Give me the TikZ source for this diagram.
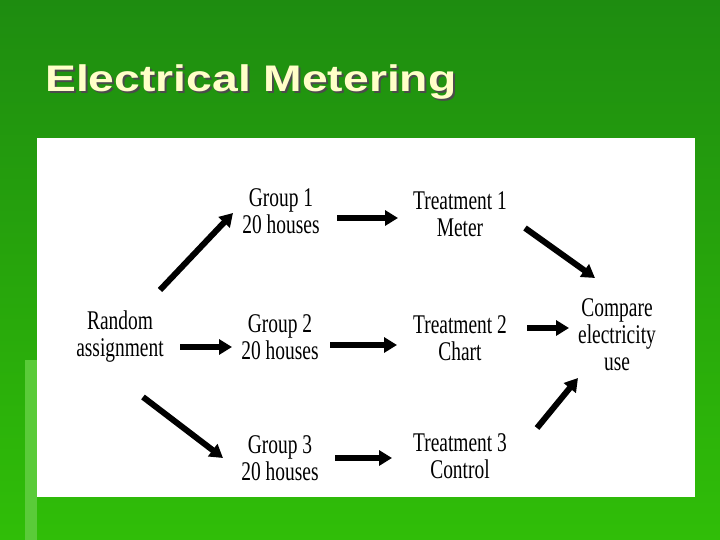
\documentclass[tikz,border=0pt]{standalone}
\usepackage{fontspec}
\setmainfont{Liberation Serif}
\newfontfamily\titlefont{Liberation Sans}
\usetikzlibrary{arrows.meta,calc}
\definecolor{bgtop}{RGB}{30,140,16}
\definecolor{bgbot}{RGB}{48,190,8}
\definecolor{titlecol}{RGB}{255,255,200}
\tikzset{
  lbl/.style={align=center,font=\fontsize{27}{27}\selectfont,xscale=0.72,inner sep=0pt},
  arr/.style={line width=6pt,-{Triangle[length=13pt,width=15pt]}}
}
\begin{document}
\begin{tikzpicture}[x=1pt,y=-1pt]
\useasboundingbox (0,0) rectangle (720,540);
\shade[top color=bgtop,bottom color=bgbot] (0,0) rectangle (720,540);
\fill[bgbot!80!white] (25,360) rectangle (37,540);
\fill[white] (37,138) rectangle (695,497);
\node[anchor=base west,text=black!70,font=\titlefont\bfseries\fontsize{37}{37}\selectfont,inner sep=0pt,xscale=1.25] (ts) at (47,94) {Electrical Metering};
\node[anchor=base west,text=titlecol,font=\titlefont\bfseries\fontsize{37}{37}\selectfont,inner sep=0pt,xscale=1.25] (title) at (45,92) {Electrical Metering};
\node[lbl] (ra) at (120,337) {Random\\assignment};
\node[lbl] (g1) at (281,211) {Group 1\\20 houses};
\node[lbl] (g2) at (280,337) {Group 2\\20 houses};
\node[lbl] (g3) at (280,458) {Group 3\\20 houses};
\node[lbl] (t1) at (460,214) {Treatment 1\\Meter};
\node[lbl] (t2) at (460,338) {Treatment 2\\Chart};
\node[lbl] (t3) at (460,456) {Treatment 3\\Control};
\node[lbl] (cmp) at (617,335) {Compare\\electricity\\use};
\draw[arr] ($(ra)+(40,-47)$) -- ($(g1)+(-48,2)$);
\draw[arr] ($(ra)+(60,10)$) -- ($(g2)+(-48,10)$);
\draw[arr] ($(ra)+(23,60)$) -- ($(g3)+(-57,0)$);
\draw[arr] ($(g1)+(56,7)$) -- ($(t1)+(-62,4)$);
\draw[arr] ($(g2)+(50,8)$) -- ($(t2)+(-63,7)$);
\draw[arr] ($(g3)+(55,0)$) -- ($(t3)+(-68,2)$);
\draw[arr] ($(t1)+(65,14)$) -- ($(cmp)+(-22,-57)$);
\draw[arr] ($(t2)+(67,-10)$) -- ($(cmp)+(-48,-7)$);
\draw[arr] ($(t3)+(77,-28)$) -- ($(cmp)+(-39,43)$);
\end{tikzpicture}
\end{document}
